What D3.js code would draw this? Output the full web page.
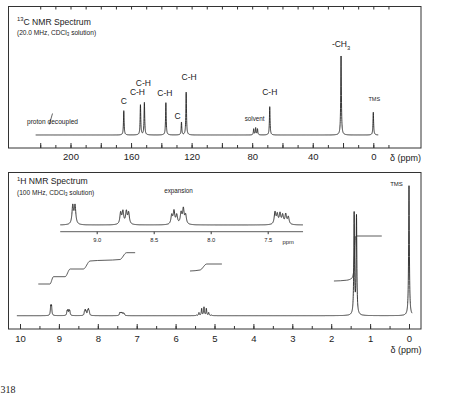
<!DOCTYPE html>
<html>
<head>
<meta charset="utf-8">
<script src="https://cdn.jsdelivr.net/npm/d3@7"></script>
<style>
  body { margin: 0; background: #fff; }
  svg { display: block; font-family: "Liberation Sans", Arial, sans-serif; }
</style>
</head>
<body>
<div id="chart"></div>
<script>
// ---- data ----
// 13C spectrum: line positions (ppm) and peak heights
const c13Shift  = [164.8, 153.8, 151.2, 137.0, 126.7, 123.6, 79.0, 77.7, 76.5, 68.4, 21.3, 0.0];
const c13Height = [24.3, 30, 32.3, 32.3, 12.7, 42.7, 6, 7, 6, 28.3, 79, 22.7];
const c13LabelPpm  = [164.8, 153.8, 151.2, 137.0, 126.7, 123.6, 68.4, 21.3];
const c13LabelText = ["C", "C-H", "C-H", "C-H", "C", "C-H", "C-H", "-CH3"];
const c13Ticks = [200, 160, 120, 80, 40, 0];

// 1H spectrum, full range
const h1Shift  = [9.21, 9.19,
                  8.79, 8.77, 8.74, 8.72,
                  8.342, 8.322, 8.298, 8.26, 8.24, 8.22,
                  7.436, 7.416, 7.392, 7.369, 7.342, 7.319,
                  5.46, 5.40, 5.33, 5.27, 5.21, 5.15, 5.08,
                  1.41, 1.35,
                  0.0];
const h1Height = [8.9, 8.9,
                  4.2, 4.6, 4.6, 4.2,
                  3.4, 5.0, 3.4, 4.2, 5.4, 3.4,
                  2.6, 2.2, 2.4, 2.1, 2.2, 1.7,
                  0.5, 3, 7, 8.4, 7, 3, 0.5,
                  101, 98,
                  130];
const h1Ticks = [10, 9, 8, 7, 6, 5, 4, 3, 2, 1, 0];

// 1H expansion (aromatic region)
const expShift  = [9.21, 9.19,
                   8.79, 8.77, 8.74, 8.72,
                   8.342, 8.322, 8.298, 8.26, 8.24, 8.22,
                   7.436, 7.416, 7.392, 7.369, 7.342, 7.319];
const expHeight = [18.5, 18.5,
                   11.5, 12.5, 12.5, 11.5,
                   9, 13, 9, 11, 15, 9,
                   12, 9.5, 10.5, 9, 10, 7.5];
const expTicks = [9.0, 8.5, 8.0, 7.5];

// integration traces: [ppm, level]
const intAromatic = [[9.53, 31.7], [9.23, 31.7], [9.14, 39], [8.84, 39], [8.71, 46.7], [8.37, 46.7],
                     [8.20, 54.7], [7.43, 56.2], [7.26, 63], [7.04, 63]];
const intMethine  = [[5.63, 44.7], [5.37, 45.7], [5.20, 51.7], [4.81, 51.7]];
const intMethyl   = [[1.93, 34.7], [1.60, 35.5], [1.47, 37.5], [1.42, 45], [1.385, 75], [1.36, 79.7], [0.70, 79.7]];

// ---- layout ----
const W = 474, H = 397;
const topBox = { x0: 8.5, x1: 421, y0: 6.5, y1: 148 };
const botBox = { x0: 8.5, x1: 421, y0: 172.5, y1: 329 };
const ink = "#222";
// label nudges for the 13C peak labels (dx, lift above the peak top)
const labelDx   = [0, -3, -1, -1, -4, 3, 0, 0];
const labelLift = [9.7, 13, 20, 10, 6, 15, 14.7, 12];

const svg = d3.select("#chart").append("svg")
  .attr("width", W)
  .attr("height", H);

const x13 = d3.scaleLinear().domain([200, 0]).range([70.5, 373.3]);
const y13 = d3.scaleLinear().domain([0, 79]).range([135, 56]);
const xH = d3.scaleLinear().domain([10, 0]).range([20, 409]);
const yH = d3.scaleLinear().domain([0, 130]).range([315.7, 185.7]);
const xE = d3.scaleLinear().domain([9.0, 7.5]).range([96.7, 267.7]);
const yE = d3.scaleLinear().domain([0, 21]).range([225, 204]);

// sum of Lorentzian lines, sampled from `from` down to `to`
function spectrum(shifts, heights, hw, from, to, step) {
  const ppm = d3.range(from, to, -step).concat(shifts.filter(s => s <= from && s >= to));
  ppm.sort((a, b) => b - a);
  return ppm.map(p => {
    let s = 0;
    shifts.forEach((c, i) => {
      const d = (p - c) / hw;
      s += heights[i] / (1 + d * d);
    });
    return [p, s];
  });
}

function drawTrace(data, x, y, width) {
  svg.append("path")
    .datum(data)
    .attr("fill", "none")
    .attr("stroke", ink)
    .attr("stroke-width", width)
    .attr("stroke-linejoin", "round")
    .attr("d", d3.line().x(d => x(d[0])).y(d => y(d[1])));
}

function drawBox(b) {
  svg.append("rect")
    .attr("x", b.x0).attr("y", b.y0)
    .attr("width", b.x1 - b.x0).attr("height", b.y1 - b.y0)
    .attr("fill", "none")
    .attr("stroke", "#333")
    .attr("stroke-width", 1);
}

function styleAxis(g, size) {
  g.select(".domain").remove();
  g.selectAll("line").attr("stroke", "#333");
  g.selectAll("text").attr("fill", ink).style("font-size", size);
}

// text with ^sup / _sub digit runs (13C, CDCl3, CH3)
function addText(x, y, str, size, anchor = "start") {
  const t = svg.append("text")
    .attr("x", x).attr("y", y)
    .attr("text-anchor", anchor)
    .attr("fill", ink)
    .style("font-size", size + "px");
  const parts = str.split(/(\^\d+|_\d+)/).filter(s => s.length);
  let shift = 0;
  parts.forEach(p => {
    if (p[0] === "^" || p[0] === "_") {
      const up = p[0] === "^" ? -0.38 : 0.3;
      t.append("tspan").attr("dy", (up * size - shift) + "px")
        .style("font-size", (size * 0.68) + "px").text(p.slice(1));
      shift = up * size;
    } else {
      t.append("tspan").attr("dy", (-shift) + "px").text(p);
      shift = 0;
    }
  });
  return t;
}

// ---------------- 13C panel ----------------
drawBox(topBox);

svg.append("g")
  .attr("transform", `translate(0,${topBox.y1})`)
  .call(d3.axisBottom(x13).tickValues(d3.range(-10, 221, 10)).tickSize(-3).tickFormat(""))
  .call(g => styleAxis(g, "9.5px"));
svg.append("g")
  .attr("transform", `translate(0,${topBox.y1})`)
  .call(d3.axisBottom(x13).tickValues(d3.range(0, 221, 20)).tickSize(-5).tickPadding(5)
    .tickFormat(d => c13Ticks.includes(d) ? d : ""))
  .call(g => styleAxis(g, "9.5px"));
svg.append("g")
  .attr("transform", `translate(0,${topBox.y0})`)
  .call(d3.axisTop(x13).tickValues(d3.range(-10, 221, 10)).tickSize(-3).tickFormat(""))
  .call(g => styleAxis(g, "9px"));

drawTrace(spectrum(c13Shift, c13Height, 0.25, 223, -3.3, 0.05), x13, y13, 0.9);

c13LabelText.forEach((txt, i) => {
  const p = c13LabelPpm[i];
  const h = c13Height[c13Shift.indexOf(p)];
  addText(x13(p) + labelDx[i], y13(h) - labelLift[i] + 3, txt.replace(/(\d)$/, "_$1"), 8.5, "middle");
});
addText(x13(77.7) - 1, 120.5, "solvent", 6.3, "middle");
addText(x13(0) + 1, 101, "TMS", 5.5, "middle");
addText(27, 124, "proton decoupled", 6.6);
svg.append("line")
  .attr("x1", 49.3).attr("y1", 124.5).attr("x2", 52.5).attr("y2", 113.5)
  .attr("stroke", ink).attr("stroke-width", 0.7);

addText(17, 24.5, "^13C NMR Spectrum", 8.6);
addText(17, 34.5, "(20.0 MHz, CDCl_3 solution)", 6.6);
addText(421, 160.5, "δ (ppm)", 9, "end");

// ---------------- 1H panel ----------------
drawBox(botBox);

svg.append("g")
  .attr("transform", `translate(0,${botBox.y1})`)
  .call(d3.axisBottom(xH).tickValues(d3.range(0, 10.01, 0.5)).tickSize(-3).tickFormat(""))
  .call(g => styleAxis(g, "9.5px"));
svg.append("g")
  .attr("transform", `translate(0,${botBox.y1})`)
  .call(d3.axisBottom(xH).tickValues(h1Ticks).tickSize(-5).tickPadding(6).tickFormat(d3.format("d")))
  .call(g => styleAxis(g, "9.5px"));

drawTrace(spectrum(h1Shift, h1Height, 0.011, 10.08, -0.08, 0.002), xH, yH, 0.9);

// integration traces
[intAromatic, intMethine, intMethyl].forEach(seg => {
  svg.append("path")
    .datum(seg)
    .attr("fill", "none")
    .attr("stroke", "#333")
    .attr("stroke-width", 0.8)
    .attr("d", d3.line().x(d => xH(d[0])).y(d => yH(d[1])).curve(d3.curveMonotoneX));
});

// expansion inset
drawTrace(spectrum(expShift, expHeight, 0.008, 9.32, 7.19, 0.001), xE, yE, 0.9);
svg.append("line")
  .attr("x1", xE(9.32)).attr("x2", xE(7.19))
  .attr("y1", 231.7).attr("y2", 231.7)
  .attr("stroke", "#333").attr("stroke-width", 0.8);
svg.append("g")
  .attr("transform", "translate(0,231.7)")
  .call(d3.axisBottom(xE).tickValues(expTicks).tickSize(2.5).tickPadding(4).tickFormat(d3.format(".1f")))
  .call(g => styleAxis(g, "5.8px"));
addText(xE(7.32), 243.5, "ppm", 5.8, "middle");
addText(178.5, 193, "expansion", 6.3, "middle");

addText(17, 184, "^1H NMR Spectrum", 8.6);
addText(17, 194.5, "(100 MHz, CDCl_3 solution)", 6.6);
addText(xH(0) - 12.5, 186, "TMS", 6, "middle");
addText(421.5, 352.5, "δ (ppm)", 9, "end");

// page number from the scanned book page
svg.append("text")
  .attr("x", 0.5).attr("y", 393)
  .attr("fill", ink)
  .style("font-family", "'Liberation Serif', serif")
  .style("font-size", "10px")
  .text("318");
</script>
</body>
</html>
